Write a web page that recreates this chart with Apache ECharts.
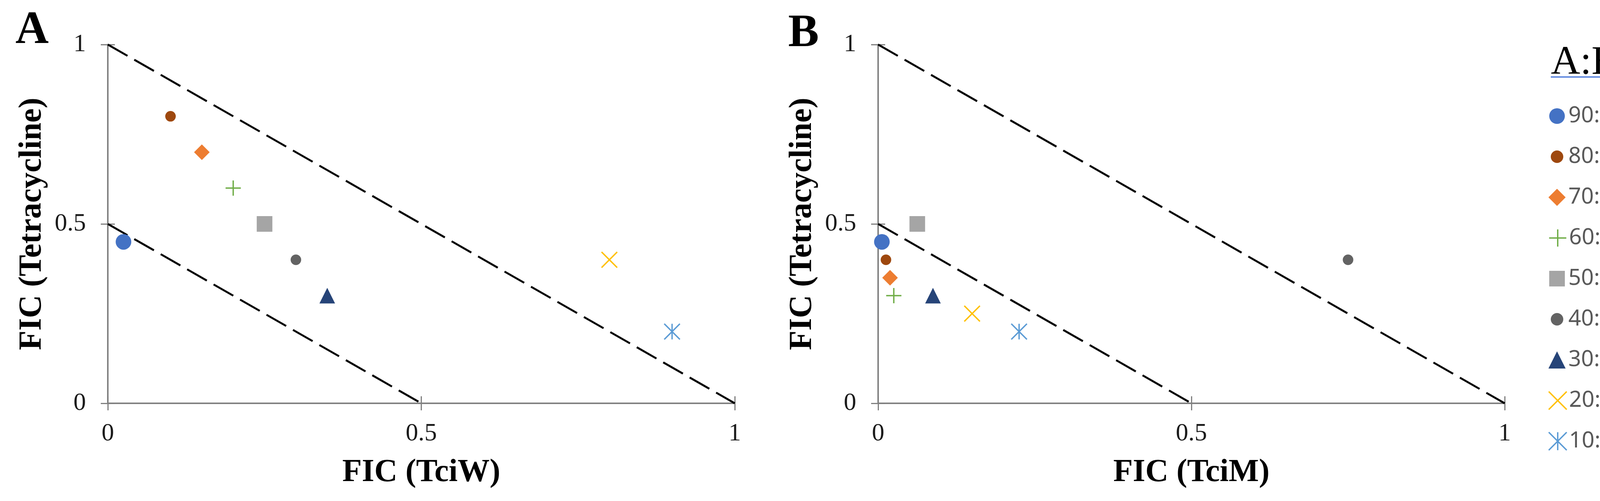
<!DOCTYPE html>
<html>
<head>
<meta charset="utf-8">
<script src="https://cdn.jsdelivr.net/npm/echarts@6/dist/echarts.min.js"></script>
<style>
html,body{margin:0;padding:0;background:#fff;overflow:hidden;}
#chart{width:4222px;height:1282px;}
</style>
</head>
<body>
<div id="chart"></div>
<script>
// ---- data ----
const ratios = ['90:10','80:20','70:30','60:40','50:50','40:60','30:70','20:80','10:90'];
const colors = ['#4472C4','#9E480E','#ED7D31','#70AD47','#A5A5A5','#636363','#264478','#FFC000','#5B9BD5'];
const ficTciW = [0.025, 0.10, 0.15, 0.20, 0.25, 0.30, 0.35, 0.80, 0.90];
const ficTetraA = [0.45, 0.80, 0.70, 0.60, 0.50, 0.40, 0.30, 0.40, 0.20];
const ficTciM = [0.006, 0.0125, 0.019, 0.025, 0.0625, 0.75, 0.0875, 0.15, 0.225];
const ficTetraB = [0.45, 0.40, 0.35, 0.30, 0.50, 0.40, 0.30, 0.25, 0.20];
const additiveLine = [[0, 1], [1, 0]];
const synergyLine = [[0, 0.5], [0.5, 0]];
const tickValues = [0, 0.5, 1];
const panelLabels = ['A', 'B'];
const xTitles = ['FIC (TciW)', 'FIC (TciM)'];
const yTitle = 'FIC (Tetracycline)';
const legendTitle = 'A:E';

// ---- styles ----
const PLUS = 'path://M0,50 L100,50 M50,0 L50,100';
const CROSS = 'path://M0,0 L100,100 M100,0 L0,100';
const STAR = 'path://M0,0 L100,100 M100,0 L0,100 M50,0 L50,100';
const symbols = ['circle','circle','diamond',PLUS,'rect','circle','triangle',CROSS,STAR];
const strokeOnly = [false,false,false,true,false,false,false,true,true];
const plotSizes = [40,27,40,39,40,27,40,40,40];
const legendSizes = [40,32,44,44,40,32,44,46,46];

const AXIS_COLOR = '#808080';
const serif = 'Liberation Serif';
const grids = [
  {left: 276, top: 114, width: 1605, height: 918},
  {left: 2248, top: 114, width: 1604, height: 918}
];

const xAxes = [], yAxes = [], series = [];
const tMin = tickValues[0], tMax = tickValues[tickValues.length - 1], tInt = tickValues[1] - tickValues[0];
const axisLineStyle = {color: AXIS_COLOR, width: 3.5};
const tickStyle = {color: AXIS_COLOR, width: 3};

grids.forEach((g, gi) => {
  const common = {gridIndex: gi, type: 'value', min: tMin, max: tMax, interval: tInt,
    splitLine: {show: false}};
  // main axes: outward ticks, labels, titles
  xAxes.push(Object.assign({}, common, {
    position: 'bottom',
    axisLine: {show: true, onZero: false, lineStyle: axisLineStyle},
    axisTick: {show: true, inside: false, length: 18, lineStyle: tickStyle},
    axisLabel: {margin: 46, fontFamily: serif, fontSize: 64, color: '#1a1a1a'},
    name: xTitles[gi], nameLocation: 'middle', nameGap: 137,
    nameTextStyle: {fontFamily: serif, fontWeight: 'bold', fontSize: 82, color: '#000'}
  }));
  // overlay axes: inward ticks (so ticks cross the axis line)
  xAxes.push(Object.assign({}, common, {
    position: 'bottom', show: true,
    axisLine: {show: true, onZero: false, lineStyle: axisLineStyle},
    axisTick: {show: true, inside: true, length: 18, lineStyle: tickStyle},
    axisLabel: {show: false}
  }));
  yAxes.push(Object.assign({}, common, {
    position: 'left',
    axisLine: {show: true, onZero: false, lineStyle: axisLineStyle},
    axisTick: {show: true, inside: false, length: 18, lineStyle: tickStyle},
    axisLabel: {margin: 56, fontFamily: serif, fontSize: 64, color: '#1a1a1a'},
    name: yTitle, nameLocation: 'middle', nameGap: 152,
    nameTextStyle: {fontFamily: serif, fontWeight: 'bold', fontSize: 82, color: '#000'}
  }));
  yAxes.push(Object.assign({}, common, {
    position: 'left', show: true,
    axisLine: {show: true, onZero: false, lineStyle: axisLineStyle},
    axisTick: {show: true, inside: true, length: 18, lineStyle: tickStyle},
    axisLabel: {show: false}
  }));

  series.push({type: 'scatter', xAxisIndex: gi * 2 + 1, yAxisIndex: gi * 2 + 1,
    data: [], silent: true, symbolSize: 0});

  [additiveLine, synergyLine].forEach(line => {
    series.push({
      type: 'line', xAxisIndex: gi * 2, yAxisIndex: gi * 2, data: line,
      symbol: 'none', silent: true, z: 1,
      lineStyle: {color: '#000', width: 5, type: [58, 20]}
    });
  });

  const xs = gi === 0 ? ficTciW : ficTciM;
  const ys = gi === 0 ? ficTetraA : ficTetraB;
  ratios.forEach((r, i) => {
    series.push({
      type: 'scatter', name: r, xAxisIndex: gi * 2, yAxisIndex: gi * 2,
      data: [[xs[i], ys[i]]],
      symbol: symbols[i], symbolSize: plotSizes[i], z: 3,
      itemStyle: strokeOnly[i]
        ? {color: colors[i], borderColor: colors[i], borderWidth: 3.5, opacity: 1}
        : {color: colors[i], opacity: 1}
    });
  });
});

const LEG_CX = 3986, LEG_TEXT_X = 4015, LEG_Y0 = 297, LEG_STEP = 104, LEG_FONT = 57;
const legends = ratios.map((r, i) => {
  const h = legendSizes[i];
  return {
    orient: 'vertical', left: LEG_CX - h / 2, top: LEG_Y0 + i * LEG_STEP - Math.max(h, LEG_FONT) / 2,
    padding: 0, itemWidth: h, itemHeight: h, itemGap: 0,
    data: [{
      name: r,
      itemStyle: strokeOnly[i]
        ? {color: colors[i], borderColor: colors[i], borderWidth: 3.5}
        : {color: colors[i], borderWidth: 0}
    }],
    textStyle: {fontFamily: 'Noto Sans', fontSize: LEG_FONT, lineHeight: LEG_FONT, color: '#595959',
      padding: [0, 0, 0, Math.max(0, LEG_TEXT_X - (LEG_CX + h / 2 + 5))]}
  };
});

const textEl = (txt, x, y, font) => ({
  type: 'text', x: x, y: y, silent: true,
  style: {text: txt, font: font, fill: '#000', align: 'center', verticalAlign: 'middle',
          textAlign: 'center', textVerticalAlign: 'middle'}
});

const option = {
  backgroundColor: '#fff',
  animation: false,
  grid: grids,
  xAxis: xAxes,
  yAxis: yAxes,
  legend: legends,
  series: series,
  graphic: [
    textEl(panelLabels[0], 82, 80, 'bold 118px "Liberation Serif"'),
    textEl(panelLabels[1], 2057, 88, 'bold 118px "Liberation Serif"'),
    textEl(legendTitle, 4054, 162, '104px "Liberation Serif"'),
    {type: 'line', silent: true, shape: {x1: 3970, y1: 197, x2: 4138, y2: 197},
     style: {stroke: '#3F6FD8', lineWidth: 3}}
  ]
};

const chart = echarts.init(document.getElementById('chart'), null, {renderer: 'canvas'});
chart.setOption(option);
</script>
</body>
</html>
